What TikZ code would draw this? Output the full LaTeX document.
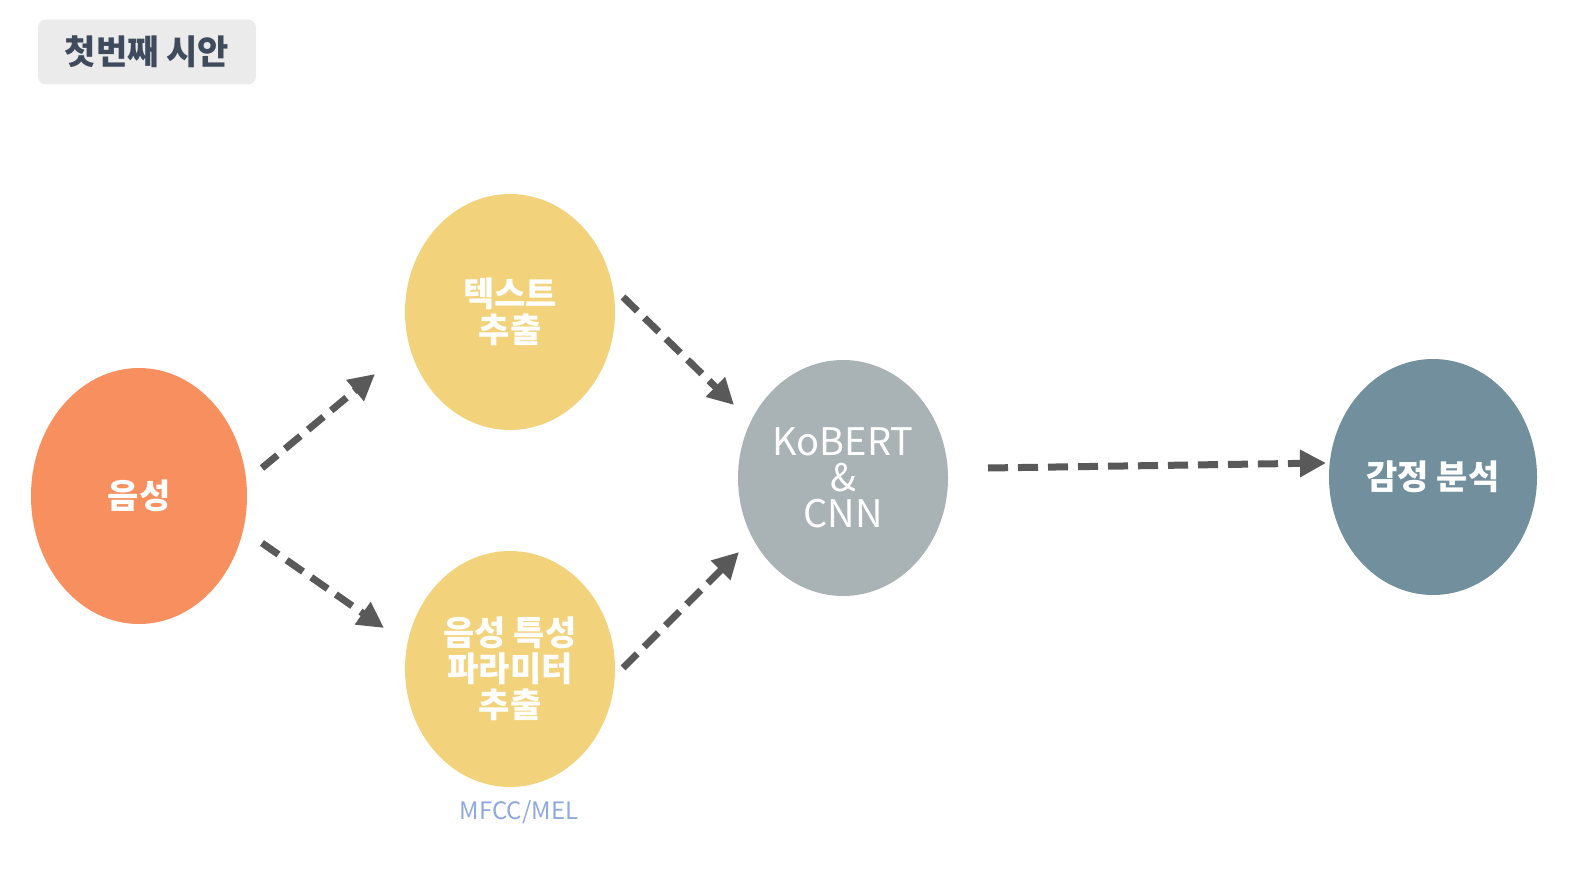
\documentclass[tikz,border=0pt]{standalone}
\usepackage{fontspec}
\usetikzlibrary{arrows.meta,shapes.geometric}
\newfontfamily\kr{Noto Sans CJK KR}
\definecolor{cOrange}{HTML}{F78F5E}
\definecolor{cYellow}{HTML}{F3D27C}
\definecolor{cGray}{HTML}{A9B3B5}
\definecolor{cSlate}{HTML}{718F9C}
\definecolor{cArrow}{HTML}{595959}
\definecolor{cTitle}{HTML}{3F4A5C}
\definecolor{cBlue}{HTML}{8FA8E0}
\begin{document}
\begin{tikzpicture}[x=1pt,y=-1pt,
  blob/.style={ellipse,draw=none,text=white,align=center,font=\kr\bfseries\fontsize{34}{40}\selectfont},
  flow/.style={cArrow,line width=7pt,dash pattern=on 20pt off 10pt,-{Triangle[length=26pt,width=26pt]}}]
\useasboundingbox (0,0) rectangle (1582,888);
\node[fill=cYellow!0,draw=none,rounded corners=8pt,fill=black!8,minimum width=218pt,minimum height=65pt,text=cTitle,font=\kr\bfseries\fontsize{34}{40}\selectfont] (title) at (147,52) {첫번째 시안};
\node[blob,fill=cOrange,minimum width=216pt,minimum height=256pt] (a) at (139,496) {음성};
\node[blob,fill=cYellow,minimum width=210pt,minimum height=236pt] (b) at (510,312) {텍스트\\[-4pt]추출};
\node[blob,fill=cYellow,minimum width=210pt,minimum height=236pt] (c) at (510,669) {음성 특성\\[-4pt]파라미터\\[-4pt]추출};
\node[blob,fill=cGray,minimum width=210pt,minimum height=236pt,font=\kr\fontsize{38}{42}\selectfont] (d) at (843,478) {KoBERT\\[-6pt]\&\\[-6pt]CNN};
\node[blob,fill=cSlate,minimum width=208pt,minimum height=236pt] (e) at (1433,477) {감정 분석};
\node[text=cBlue,font=\kr\fontsize{24}{28}\selectfont] (m) at (519,812) {MFCC/MEL};
\coordinate (a1) at (262,468); \coordinate (b1) at (375,374);
\coordinate (a2) at (262,543); \coordinate (c1) at (384,628);
\coordinate (b2) at (623,297); \coordinate (d1) at (734,405);
\coordinate (c2) at (623,668); \coordinate (d2) at (739,552);
\coordinate (d3) at (988,468); \coordinate (e1) at (1326,463);
\draw[flow] (a1) -- (b1);
\draw[flow] (a2) -- (c1);
\draw[flow] (b2) -- (d1);
\draw[flow] (c2) -- (d2);
\draw[flow] (d3) -- (e1);
\end{tikzpicture}
\end{document}
